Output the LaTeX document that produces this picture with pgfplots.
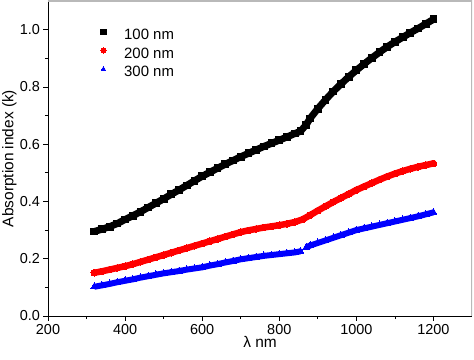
\documentclass[border=0pt]{standalone}
\usepackage{pgfplots}
\pgfplotsset{compat=1.18}
\usepackage{fontspec}
\setmainfont{Liberation Sans}
\begin{document}
\begin{tikzpicture}
\begin{axis}[
  scale only axis, width=424bp, height=315bp,
  xmin=200, xmax=1300, ymin=0, ymax=1.1,
  axis x line*=bottom, axis y line*=left,
  axis line style={line width=1pt},
  xtick={200,400,...,1200}, ytick={0,0.2,...,1.0},
  minor x tick num=1, minor y tick num=1,
  tick align=outside, major tick length=4.5bp, minor tick length=3bp,
  tick style={black, line width=0.8pt},
  /pgf/number format/assume math mode=true,
  xticklabel style={/pgf/number format/1000 sep={}},
  yticklabel style={/pgf/number format/fixed, /pgf/number format/fixed zerofill, /pgf/number format/precision=1},
  ticklabel style={font=\fontsize{14.5}{17}\selectfont},
  xlabel={λ nm}, ylabel={Absorption index (k)},
  label style={font=\fontsize{15.5}{18}\selectfont},
  xlabel style={yshift=5bp}, ylabel style={yshift=-3.5bp},
  legend style={draw=none, fill=none, at={(rel axis cs:0.112,0.918)}, anchor=north west,
    font=\fontsize{15}{18}\selectfont, row sep=4.5bp, column sep=13bp, inner sep=0pt,
    nodes={inner xsep=0bp, inner ysep=1.5bp, text height=11bp, text depth=0bp}},
  legend cell align=left,
  legend image code/.code={\path (0,0) (0.3cm,0); \draw[#1, line width=0pt, draw=none, mark size=2.6pt] plot coordinates {(0.15cm,0.07cm)};},
]
\coordinate (ll) at (rel axis cs:0,0);
\coordinate (ur) at (rel axis cs:1,1);
\addplot[black, line width=7pt, line join=round, mark=square*, mark size=3.4pt, mark options={line width=0pt}] coordinates {
(320,0.295)(340,0.303)(360,0.312)(380,0.323)(400,0.337)(420,0.350)(440,0.364)(460,0.379)(480,0.394)(500,0.409)
(520,0.425)(540,0.440)(560,0.456)(580,0.472)(600,0.488)(620,0.502)(640,0.516)(660,0.530)(680,0.543)(700,0.556)
(720,0.568)(740,0.580)(760,0.592)(780,0.603)(800,0.614)(820,0.625)(840,0.637)(855,0.645)(870,0.668)(880,0.690)
(900,0.724)(920,0.755)(940,0.784)(960,0.810)(980,0.835)(1000,0.858)(1020,0.880)(1040,0.901)(1060,0.921)(1080,0.940)
(1100,0.957)(1120,0.973)(1140,0.989)(1160,1.004)(1180,1.020)(1200,1.036)};
\addlegendentry{100 nm}
\addplot[red, line width=6.5pt, line join=round, mark=*, mark size=3.3pt, mark options={line width=0pt}] coordinates {
(320,0.151)(340,0.156)(360,0.162)(380,0.168)(400,0.174)(420,0.181)(440,0.189)(460,0.197)(480,0.205)(500,0.213)
(520,0.221)(540,0.229)(560,0.237)(580,0.245)(600,0.253)(620,0.261)(640,0.269)(660,0.277)(680,0.285)(700,0.293)
(720,0.299)(740,0.304)(760,0.309)(780,0.313)(800,0.317)(820,0.322)(840,0.328)(860,0.337)(880,0.352)(900,0.368)
(920,0.383)(940,0.398)(960,0.412)(980,0.426)(1000,0.440)(1020,0.452)(1040,0.464)(1060,0.476)(1080,0.487)(1100,0.497)
(1120,0.506)(1140,0.514)(1160,0.521)(1180,0.527)(1200,0.533)};
\addlegendentry{200 nm}
\addplot[blue, line width=6pt, line join=round, mark=triangle*, mark size=4pt, mark options={line width=0pt}] coordinates {
(320,0.102)(340,0.107)(360,0.112)(380,0.118)(400,0.123)(420,0.128)(440,0.134)(460,0.139)(480,0.144)(500,0.149)
(520,0.153)(540,0.157)(560,0.162)(580,0.166)(600,0.170)(620,0.176)(640,0.181)(660,0.187)(680,0.192)(700,0.198)
(720,0.202)(740,0.206)(760,0.210)(780,0.213)(800,0.216)(820,0.219)(840,0.222)(855,0.226)};
\addlegendentry{300 nm}
\addplot[blue, line width=6pt, line join=round, mark=triangle*, mark size=4pt, mark options={line width=0pt}, forget plot] coordinates {
(870,0.240)(880,0.246)(900,0.255)(920,0.264)(940,0.273)(960,0.282)(980,0.291)(1000,0.300)(1020,0.306)(1040,0.312)
(1060,0.318)(1080,0.324)(1100,0.330)(1120,0.336)(1140,0.342)(1160,0.348)(1180,0.355)(1200,0.362)};
\draw[gray!55, line width=1.2pt] (rel axis cs:0,1) -- (rel axis cs:1,1) -- (rel axis cs:1,0);
\end{axis}
\pgfresetboundingbox
\path ([xshift=-48bp,yshift=-44bp]ll) rectangle ([xshift=2bp,yshift=1bp]ur);
\end{tikzpicture}
\end{document}
